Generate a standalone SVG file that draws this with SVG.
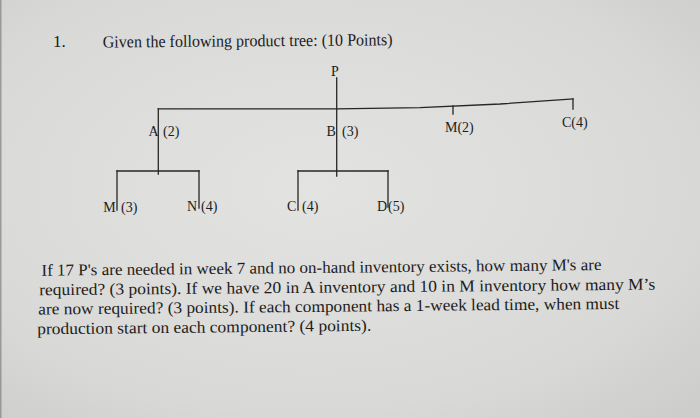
<svg xmlns="http://www.w3.org/2000/svg" width="700" height="418" viewBox="0 0 700 418">
<defs>
<radialGradient id="bg" cx="0.45" cy="0.45" r="0.75">
<stop offset="0" stop-color="#e3e3e1"/>
<stop offset="0.7" stop-color="#d9d9d7"/>
<stop offset="1" stop-color="#cdcdcb"/>
</radialGradient>
<style>
.t{font-family:"Liberation Serif","Times New Roman",serif;fill:#1c1c1c}
.lbl{font-size:14px}
.ttl{font-size:17px}
.par{font-size:16.5px}
.ln{stroke:#262626;stroke-width:1.3;fill:none;stroke-linecap:square}
</style>
</defs>
<rect x="0" y="0" width="700" height="418" fill="url(#bg)"/>
<line x1="0.8" y1="0" x2="0.8" y2="418" stroke="#8a8a88" stroke-width="1.2"/>

<g id="title">
<text class="t ttl" x="53" y="46.5">1.</text>
<text class="t ttl" x="102.7" y="47.5" textLength="290" lengthAdjust="spacingAndGlyphs" transform="rotate(-0.45 102.7 47.5)">Given the following product tree: (10 Points)</text>
</g>

<g id="connectors">
<line class="ln" x1="336.7" y1="78" x2="336.7" y2="176"/>
<polyline class="ln" points="158.3,108.8 336.7,108.8 420,107.6 500,104 573,99"/>
<line class="ln" x1="573" y1="99" x2="573" y2="109"/>
<line class="ln" x1="453" y1="105.8" x2="453" y2="114"/>
<line class="ln" x1="158.3" y1="108.8" x2="158.3" y2="174"/>
<line class="ln" x1="117" y1="171" x2="199" y2="171"/>
<line class="ln" x1="117" y1="171" x2="117" y2="210"/>
<line class="ln" x1="199" y1="171" x2="199" y2="208"/>
<line class="ln" x1="298" y1="171" x2="388" y2="171"/>
<line class="ln" x1="298" y1="171" x2="298" y2="210"/>
<line class="ln" x1="388" y1="171" x2="388" y2="207"/>
</g>

<g id="node-P"><text class="t lbl" x="331" y="76">P</text></g>
<g id="node-A"><text class="t lbl" x="148.5" y="136">A<tspan x="163">(2)</tspan></text></g>
<g id="node-B"><text class="t lbl" x="326.5" y="136">B<tspan x="342">(3)</tspan></text></g>
<g id="node-M2"><text class="t lbl" x="445" y="132">M(2)</text></g>
<g id="node-C4-top"><text class="t lbl" x="562" y="127">C(4)</text></g>
<g id="node-M3"><text class="t lbl" x="103.3" y="212">M<tspan x="121">(3)</tspan></text></g>
<g id="node-N4"><text class="t lbl" x="187" y="211">N<tspan x="201">(4)</tspan></text></g>
<g id="node-C4"><text class="t lbl" x="287" y="211">C<tspan x="302">(4)</tspan></text></g>
<g id="node-D5"><text class="t lbl" x="377" y="211">D<tspan x="388">(5)</tspan></text></g>

<g id="question">
<text class="t par" x="41.5" y="275.7" textLength="560" lengthAdjust="spacingAndGlyphs" transform="rotate(-0.58 41.5 275.7)">If 17 P's are needed in week 7 and no on-hand inventory exists, how many M's are</text>
<text class="t par" x="39.3" y="295.2" textLength="616" lengthAdjust="spacingAndGlyphs" transform="rotate(-0.52 39.3 295.2)">required?  (3 points).  If we have 20 in A inventory and 10 in M inventory how many M’s</text>
<text class="t par" x="38.3" y="314.5" textLength="581" lengthAdjust="spacingAndGlyphs" transform="rotate(-0.55 38.3 314.5)">are now required? (3 points).  If each component has a 1-week lead time, when must</text>
<text class="t par" x="37.3" y="334.3" textLength="334" lengthAdjust="spacingAndGlyphs" transform="rotate(-0.6 37.3 334.3)">production start on each component? (4 points).</text>
</g>
</svg>
